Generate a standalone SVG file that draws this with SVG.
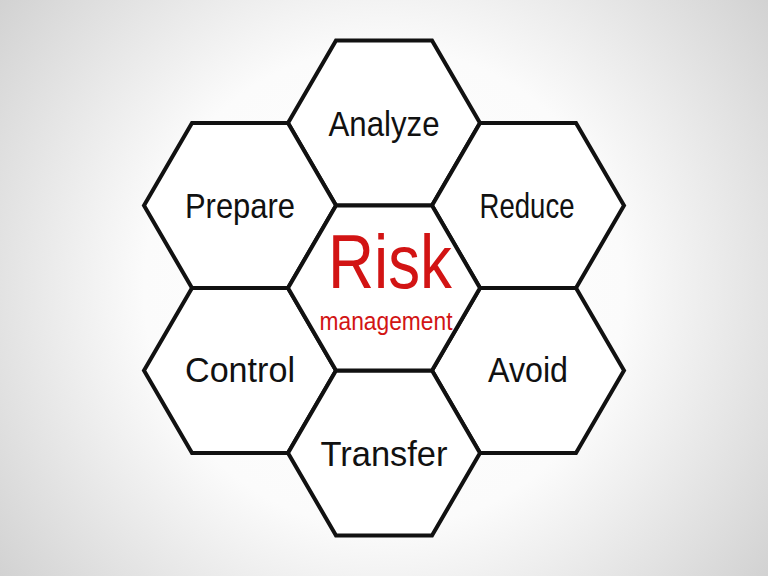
<svg xmlns="http://www.w3.org/2000/svg" width="768" height="576" viewBox="0 0 768 576">
  <defs>
    <radialGradient id="bg" cx="384" cy="288" r="480" gradientUnits="userSpaceOnUse">
      <stop offset="0" stop-color="#ffffff"/>
      <stop offset="0.5" stop-color="#fbfbfb"/>
      <stop offset="1" stop-color="#d2d2d2"/>
    </radialGradient>
    <polygon id="hex" points="-96,0 -48,-82.5 48,-82.5 96,0 48,82.5 -48,82.5"/>
  </defs>
  <style>
    .hex { fill: #ffffff; stroke: #111111; stroke-width: 4; stroke-linejoin: miter; }
    .lbl { font-family: "Liberation Sans", Arial, sans-serif; font-size: 35px; fill: #111111; text-anchor: middle; }
    .risk { font-family: "Liberation Sans", Arial, sans-serif; font-size: 76px; fill: #d21414; text-anchor: middle; }
    .mgmt { font-family: "Liberation Sans", Arial, sans-serif; font-size: 26px; fill: #d21414; text-anchor: middle; }
  </style>
  <rect x="0" y="0" width="768" height="576" fill="url(#bg)"/>

  <g id="node-analyze">
    <use href="#hex" class="hex" x="384" y="123"/>
    <text class="lbl" x="384" y="136" textLength="111" lengthAdjust="spacingAndGlyphs">Analyze</text>
  </g>
  <g id="node-prepare">
    <use href="#hex" class="hex" x="240" y="205.5"/>
    <text class="lbl" x="240" y="218" textLength="110" lengthAdjust="spacingAndGlyphs">Prepare</text>
  </g>
  <g id="node-reduce">
    <use href="#hex" class="hex" x="528" y="205.5"/>
    <text class="lbl" x="527" y="218" textLength="95" lengthAdjust="spacingAndGlyphs">Reduce</text>
  </g>
  <g id="node-control">
    <use href="#hex" class="hex" x="240" y="370.5"/>
    <text class="lbl" x="240" y="382" textLength="110" lengthAdjust="spacingAndGlyphs">Control</text>
  </g>
  <g id="node-avoid">
    <use href="#hex" class="hex" x="528" y="370.5"/>
    <text class="lbl" x="528" y="382" textLength="80" lengthAdjust="spacingAndGlyphs">Avoid</text>
  </g>
  <g id="node-transfer">
    <use href="#hex" class="hex" x="384" y="453"/>
    <text class="lbl" x="384" y="466" textLength="127" lengthAdjust="spacingAndGlyphs">Transfer</text>
  </g>
  <g id="node-risk">
    <use href="#hex" class="hex" x="384" y="288"/>
    <text class="risk" x="390" y="288" textLength="124" lengthAdjust="spacingAndGlyphs">Risk</text>
    <text class="mgmt" x="386" y="330" textLength="133" lengthAdjust="spacingAndGlyphs">management</text>
  </g>
</svg>
